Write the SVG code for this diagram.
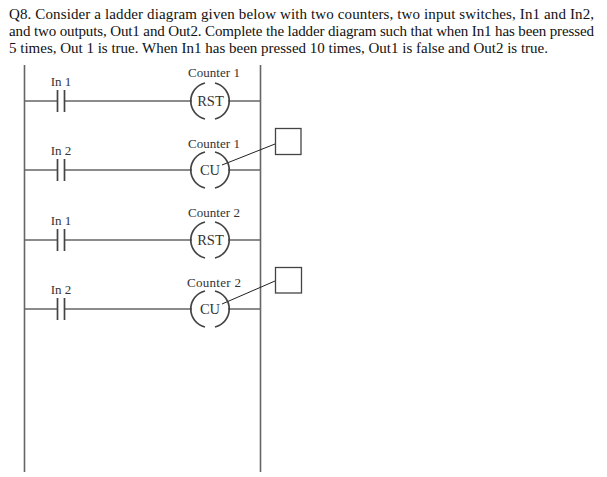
<svg xmlns="http://www.w3.org/2000/svg" width="607" height="477" viewBox="0 0 607 477">
<style>
.q{font:15px "Liberation Serif",serif;fill:#111}
.l{font:13px "Liberation Serif",serif;fill:#333}
.r{font:14.500px "Liberation Serif",serif;fill:#333}
.c{text-anchor:middle}
.w{stroke:#666;stroke-width:1.6;fill:none}
.k{stroke:#444;stroke-width:1.7;fill:none}
.a{stroke:#222;stroke-width:1;fill:none}
.b{stroke:#444;stroke-width:1.3;fill:#fff}
</style>
<rect width="607" height="477" fill="#fff"/>
<g id="question">
<text class="q" x="9" y="19" textLength="585" lengthAdjust="spacing">Q8. Consider a ladder diagram given below with two counters, two input switches, In1 and In2,</text>
<text class="q" x="9" y="36" textLength="585" lengthAdjust="spacing">and two outputs, Out1 and Out2. Complete the ladder diagram such that when In1 has been pressed</text>
<text class="q" x="9" y="53" textLength="539" lengthAdjust="spacing">5 times, Out 1 is true. When In1 has been pressed 10 times, Out1 is false and Out2 is true.</text>
</g>
<g id="connectors">
<path class="w" d="M24.500 65V472M260.500 65V472"/>
<path class="w" d="M24 101H57M65 101H192M228 101H260M24 170H57M65 170H192M228 170H260M24 240H57M65 240H192M228 240H260M24 309H57M65 309H192M228 309H260"/>
<path class="a" d="M222 165L275 144M222 304L275 281"/>
</g>
<g id="rung1-contact"><text class="l c" x="61" y="86">In 1</text><path class="k" d="M57.500 90V112M64.500 90V112"/></g>
<g id="rung2-contact"><text class="l c" x="61" y="155">In 2</text><path class="k" d="M57.500 159V181M64.500 159V181"/></g>
<g id="rung3-contact"><text class="l c" x="61" y="225">In 1</text><path class="k" d="M57.500 229V251M64.500 229V251"/></g>
<g id="rung4-contact"><text class="l c" x="61" y="294">In 2</text><path class="k" d="M57.500 298V320M64.500 298V320"/></g>
<g id="rung1-coil"><text class="l c" x="214" y="77" textLength="52">Counter 1</text><path class="k" d="M205 83A18.500 18.500 0 0 0 205 119M215 83A18.500 18.500 0 0 1 215 119"/><text class="r c" x="210.500" y="106">RST</text></g>
<g id="rung2-coil"><text class="l c" x="214" y="148" textLength="52">Counter 1</text><path class="k" d="M205 152A18.500 18.500 0 0 0 205 188M215 152A18.500 18.500 0 0 1 215 188"/><text class="r c" x="210" y="175">CU</text></g>
<g id="rung3-coil"><text class="l c" x="214" y="217" textLength="52">Counter 2</text><path class="k" d="M205 222A18.500 18.500 0 0 0 205 258M215 222A18.500 18.500 0 0 1 215 258"/><text class="r c" x="210.500" y="245">RST</text></g>
<g id="rung4-coil"><text class="l c" x="214" y="287" textLength="54">Counter 2</text><path class="k" d="M205 291A18.500 18.500 0 0 0 205 327M215 291A18.500 18.500 0 0 1 215 327"/><text class="r c" x="210" y="314">CU</text></g>
<g id="box1"><rect class="b" x="275.500" y="128.500" width="25.500" height="26"/></g>
<g id="box2"><rect class="b" x="275.500" y="267.500" width="26" height="25.500"/></g>
</svg>
